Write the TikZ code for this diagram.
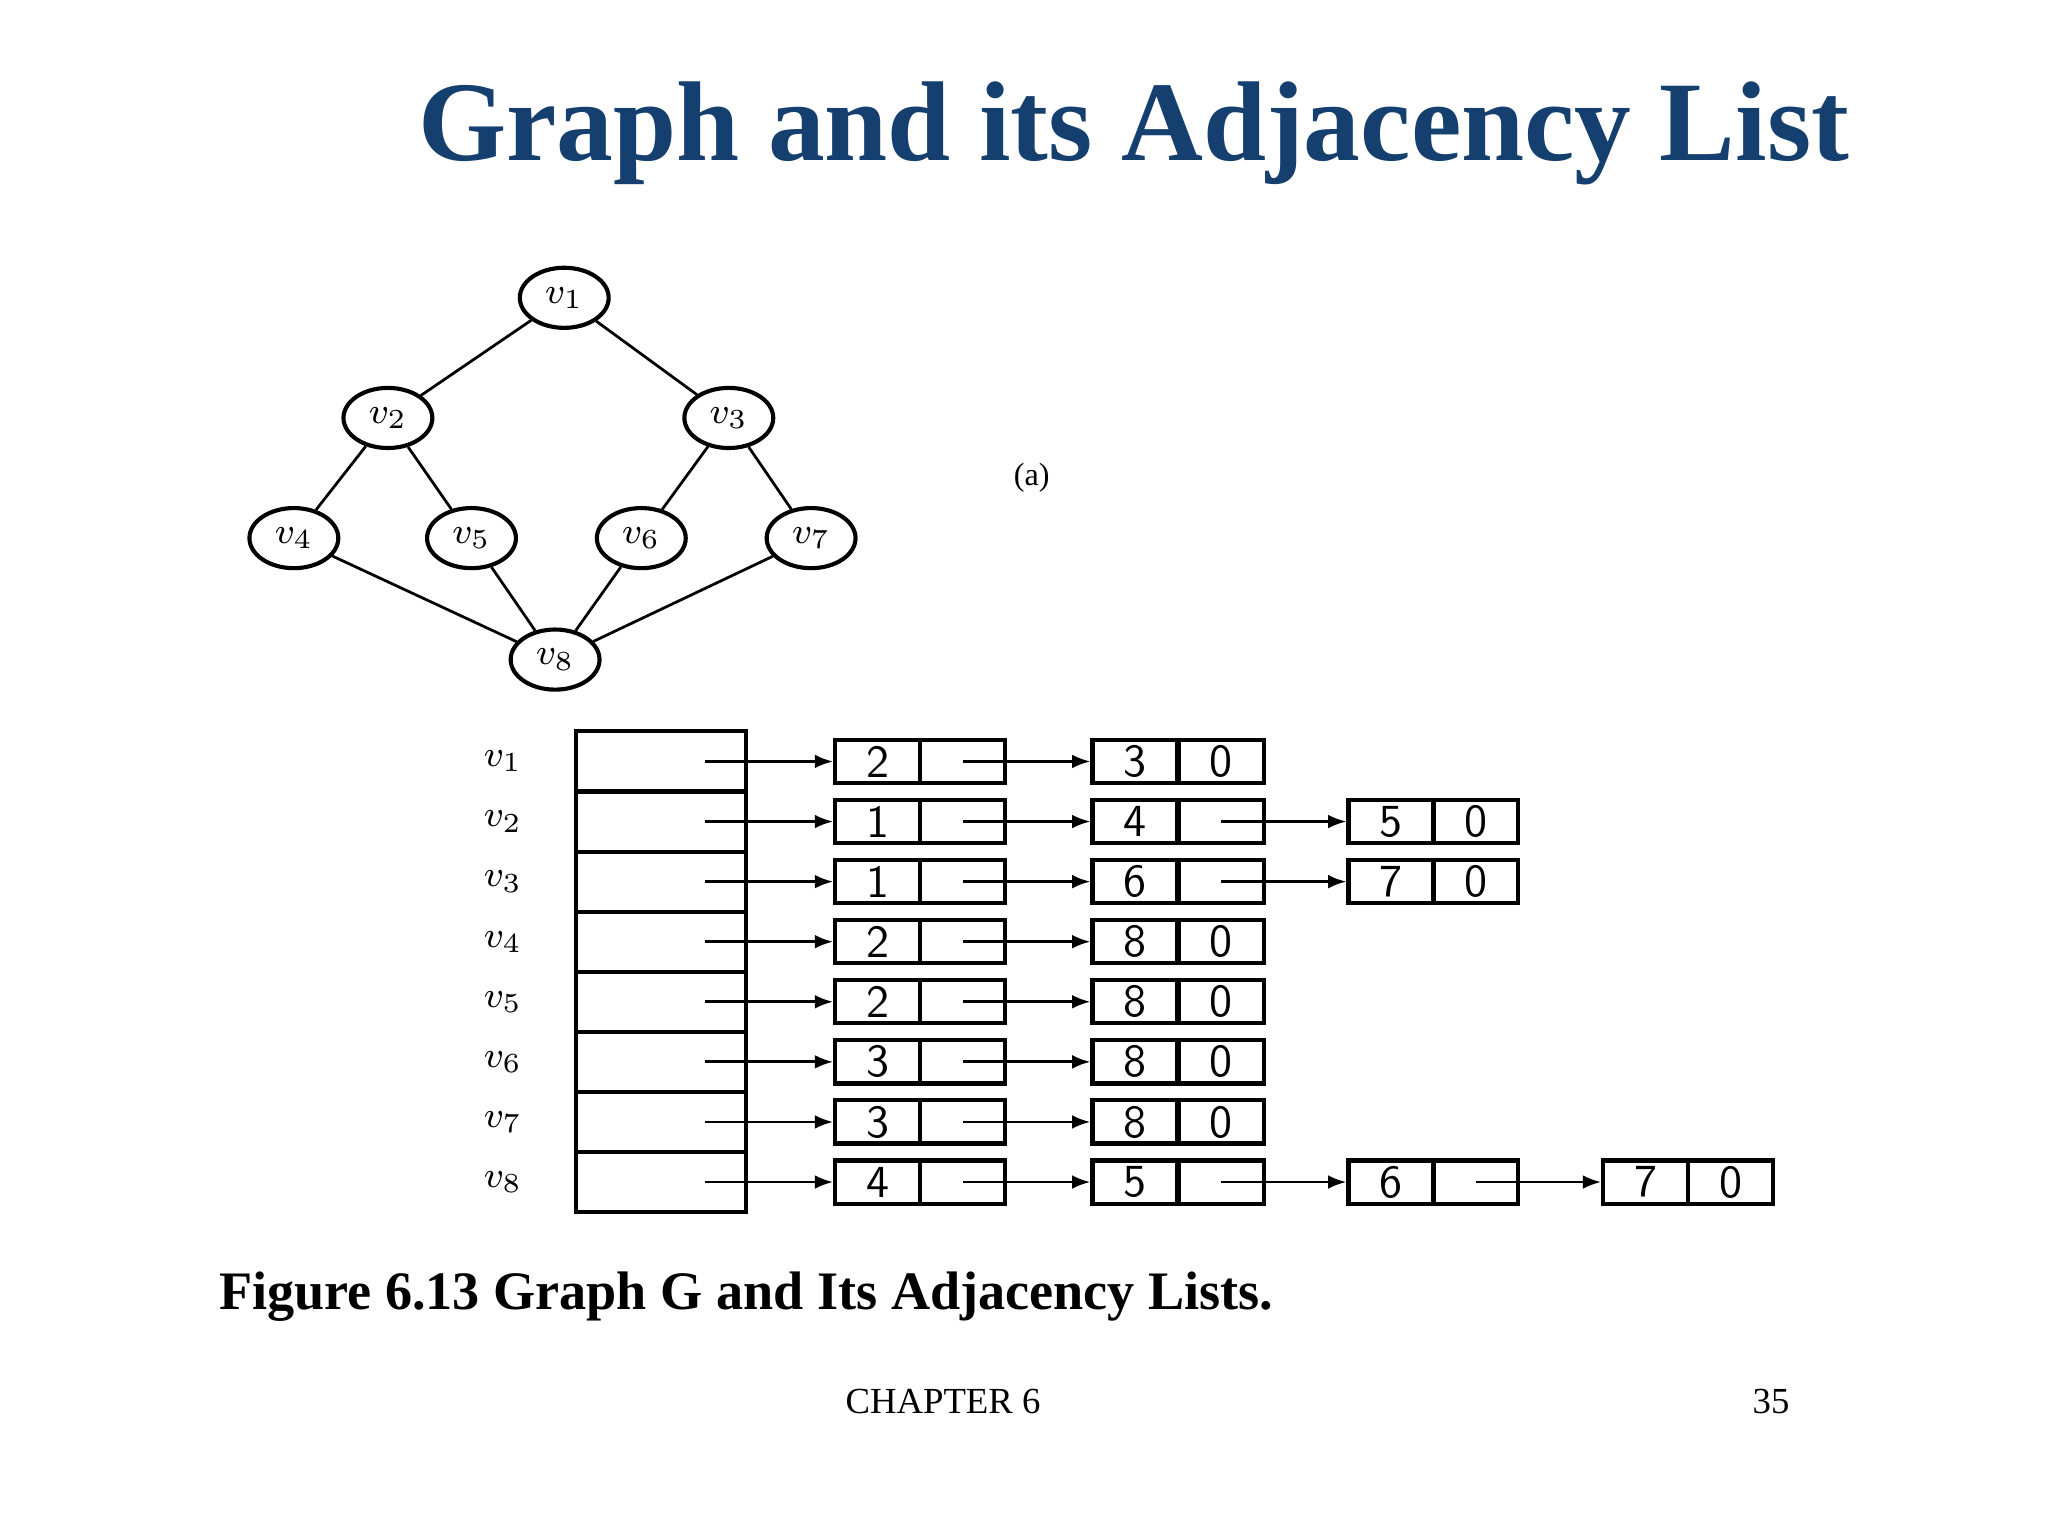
\documentclass[tikz,border=0pt]{standalone}
\usepackage{fontspec}
\setmainfont{Liberation Serif}
\usetikzlibrary{shapes.geometric,arrows.meta}
\definecolor{titleblue}{HTML}{143F6E}
\begin{document}
\begin{tikzpicture}[x=0.01cm,y=-0.01cm,
  gv/.style={ellipse,draw,line width=0.9pt,minimum width=0.68cm,minimum height=0.46cm,inner sep=0pt,font=\fontsize{8}{9}\selectfont\sffamily},
  ge/.style={line width=0.6pt},
  cell/.style={draw,line width=0.9pt,minimum width=0.65cm,minimum height=0.33cm,inner sep=0pt,font=\fontsize{10}{10}\selectfont\sffamily},
  arr/.style={line width=0.6pt,-{Latex[length=4pt,width=3pt]}},
  rowlab/.style={font=\fontsize{8}{9}\selectfont\sffamily}]
\useasboundingbox (0,0) rectangle (1568,1176);
\node[font=\bfseries\fontsize{24.7}{28}\selectfont,text=titleblue] (title) at (868,102) {Graph and its Adjacency List};
% graph
\node[gv] (v1) at (432,228) {$v_1$};
\node[gv] (v2) at (297,320) {$v_2$};
\node[gv] (v3) at (558,320) {$v_3$};
\node[gv] (v4) at (225,412) {$v_4$};
\node[gv] (v5) at (361,412) {$v_5$};
\node[gv] (v6) at (491,412) {$v_6$};
\node[gv] (v7) at (621,412) {$v_7$};
\node[gv] (v8) at (425,505) {$v_8$};
\foreach \a/\b in {v1/v2,v1/v3,v2/v4,v2/v5,v3/v6,v3/v7,v4/v8,v5/v8,v6/v8,v7/v8}
  \draw[ge] (\a) -- (\b);
\node[font=\fontsize{7}{8}\selectfont] (lab) at (790,366) {(a)};
% array, labels, first node
\foreach \i/\y/\a in {1/583/2,2/629/1,3/675/1,4/721/2,5/767/2,6/813/3,7/859/3,8/905/4}{
  \node[rowlab] (L\i) at (385,\y) {$v_{\i}$};
  \node[draw,line width=0.9pt,minimum width=1.3cm,minimum height=0.46cm,inner sep=0pt] (A\i) at (506,\y) {};
  \coordinate (P\i) at (540,\y);
  \node[cell] (N\i-a) at (672,\y) {\a};
  \node[cell] (N\i-ap) at (737,\y) {};
  \draw[arr] (P\i) -- (N\i-a.west);
}
% second node, terminal
\foreach \i/\y/\b in {1/583/3,4/721/8,5/767/8,6/813/8,7/859/8}{
  \node[cell] (N\i-b) at (869,\y) {\b};
  \node[cell] (N\i-bp) at (935,\y) {0};
  \draw[arr] (N\i-ap.center) -- (N\i-b.west);
}
% second node, continuing
\foreach \i/\y/\b in {2/629/4,3/675/6,8/905/5}{
  \node[cell] (N\i-b) at (869,\y) {\b};
  \node[cell] (N\i-bp) at (935,\y) {};
  \draw[arr] (N\i-ap.center) -- (N\i-b.west);
}
% third node, terminal
\foreach \i/\y/\c in {2/629/5,3/675/7}{
  \node[cell] (N\i-c) at (1065,\y) {\c};
  \node[cell] (N\i-cp) at (1130,\y) {0};
  \draw[arr] (N\i-bp.center) -- (N\i-c.west);
}
% row 8 tail
\node[cell] (N8-c) at (1065,905) {6};
\node[cell] (N8-cp) at (1130,905) {};
\draw[arr] (N8-bp.center) -- (N8-c.west);
\node[cell] (N8-d) at (1260,905) {7};
\node[cell] (N8-dp) at (1325,905) {0};
\draw[arr] (N8-cp.center) -- (N8-d.west);
\node[font=\bfseries\fontsize{11.8}{13}\selectfont,anchor=west,inner sep=0pt] (cap) at (167,993) {Figure 6.13 Graph G and Its Adjacency Lists.};
\node[font=\fontsize{8}{9}\selectfont] (ch) at (722,1073) {CHAPTER 6};
\node[font=\fontsize{8}{9}\selectfont] (pg) at (1356,1073) {35};
\end{tikzpicture}
\end{document}
